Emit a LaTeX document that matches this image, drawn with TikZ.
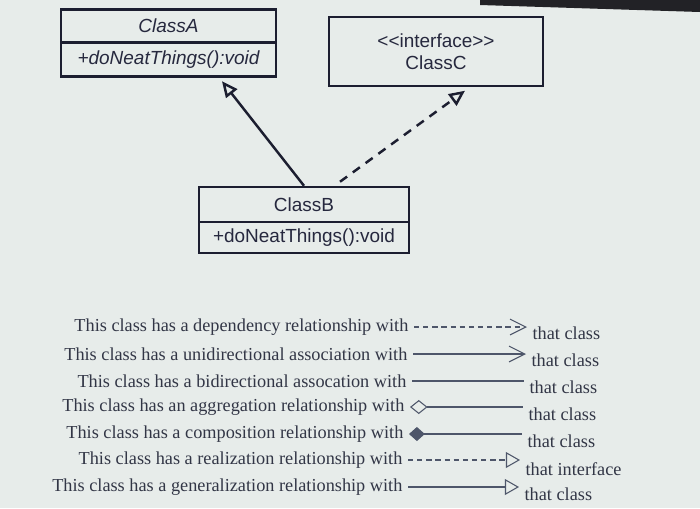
\documentclass[tikz,border=0pt]{standalone}
\usepackage{fontspec}
\setmainfont{Liberation Serif}
\setsansfont{Liberation Sans}
\usetikzlibrary{arrows.meta,positioning}
\definecolor{umlink}{RGB}{28,30,48}
\definecolor{umltext}{RGB}{38,40,62}
\definecolor{legtext}{RGB}{50,54,70}
\definecolor{legline}{RGB}{78,86,106}
\definecolor{paperbg}{RGB}{231,236,234}
\definecolor{bezel}{RGB}{34,34,38}

\begin{document}
\begin{tikzpicture}[x=0.02cm, y=-0.02cm,
  clsname/.style={
    rectangle, draw=umlink, line width=1.4pt,
    minimum width=4.3cm, minimum height=0.66cm, inner sep=2pt,
    font=\sffamily\fontsize{10.8}{12.5}\selectfont,
    text=umltext, align=center
  },
  clsops/.style={clsname, minimum height=0.68cm},
  inherit/.style={-{Triangle[open,length=9pt,width=8pt]}, line width=1.4pt, draw=umlink},
  realize/.style={inherit, dash pattern=on 5pt off 4pt},
  sentence/.style={anchor=east, inner sep=3pt, font=\fontsize{10.4}{12}\selectfont, text=legtext},
  target/.style={sentence, anchor=west},
  legline/.style={line width=0.6pt, draw=legline},
  legdash/.style={legline, dash pattern=on 3pt off 2.2pt}
]
\useasboundingbox (0,0) rectangle (700,508);
\fill[paperbg] (0,0) rectangle (700,508);
\fill[bezel] (480,0) -- (700,0) -- (700,12) -- (480,5) -- cycle;

% class diagram
\node[clsname] (nameA) at (168.5,26) {\itshape ClassA};
\node[clsops, below=-1.4pt of nameA] (opsA) {\itshape +doNeatThings():void};

\node[clsname, minimum width=4.28cm, minimum height=1.38cm] (clsC) at (436,51.5)
  {<\kern0pt<interface>\kern0pt>\\ClassC};

\node[clsname, minimum width=4.2cm, minimum height=0.7cm] (nameB) at (304,204.5) {ClassB};
\node[clsops, minimum width=4.2cm, minimum height=0.62cm, below=-1.4pt of nameB] (opsB) {+doNeatThings():void};

\draw[inherit] (nameB.north) -- ([xshift=1.07cm,yshift=-2pt]opsA.south);
\draw[realize] ([xshift=0.72cm,yshift=2.3pt]nameB.north) -- ([xshift=0.58cm,yshift=-2pt]clsC.south);

% legend
\node[sentence] (dep) at (414,327) {This class has a dependency relationship with};
\node[target] (depT) at (527,333) {that class};
\node[sentence] (uni) at (413,354) {This class has a unidirectional association with};
\node[target] (uniT) at (526,360) {that class};
\node[sentence] (bi) at (412,381) {This class has a bidirectional assocation with};
\node[target] (biT) at (524,387) {that class};
\node[sentence] (agg) at (410,407) {This class has an aggregation relationship with};
\node[target] (aggT) at (523,414) {that class};
\node[sentence] (comp) at (409,434) {This class has a composition relationship with};
\node[target] (compT) at (522,441) {that class};
\node[sentence] (real) at (408,460) {This class has a realization relationship with};
\node[target] (realT) at (520,469) {that interface};
\node[sentence] (gen) at (408,487) {This class has a generalization relationship with};
\node[target] (genT) at (519,494) {that class};

\draw[legdash, -{Straight Barb[length=9pt,width=9pt]}] (dep.east) -- (dep.east -| depT.west);
\draw[legline, -{Straight Barb[length=9pt,width=9pt]}] (uni.east) -- (uni.east -| uniT.west);
\draw[legline] (bi.east) -- (bi.east -| biT.west);
\draw[legline, {Diamond[open,length=10pt,width=8pt]}-] (agg.east) -- (agg.east -| aggT.west);
\draw[legline, {Diamond[length=9pt,width=8pt]}-] (comp.east) -- (comp.east -| compT.west);
\draw[legdash, -{Triangle[open,length=8pt,width=9pt]}] (real.east) -- (real.east -| realT.west);
\draw[legline, -{Triangle[open,length=8pt,width=9pt]}] (gen.east) -- (gen.east -| genT.west);
\end{tikzpicture}
\end{document}
